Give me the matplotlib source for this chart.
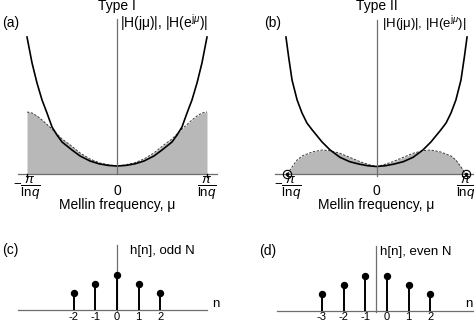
import matplotlib
matplotlib.use('Agg')
import matplotlib.pyplot as plt

plt.rcParams['font.family'] = 'Liberation Sans'
plt.rcParams['mathtext.fontset'] = 'custom'
plt.rcParams['mathtext.rm'] = 'Liberation Sans'
plt.rcParams['mathtext.it'] = 'Liberation Sans:italic'
plt.rcParams['mathtext.bf'] = 'Liberation Sans:bold'

W, H = 474, 323

# Type I: |H(j mu)| and |H(e^{j mu})|, read at |u| where u = mu * lnq / pi
u_a = [0, 0.1, 0.2, 0.3, 0.41, 0.5, 0.611, 0.667, 0.722, 0.778, 0.833, 0.889, 0.944, 1.0]
mag_a = [8, 8.6, 10.2, 13, 18, 24, 32, 39, 47, 61, 74, 91, 111, 137]
u_fill_a = [0, 0.08, 0.19, 0.3, 0.41, 0.52, 0.611, 0.667, 0.722, 0.778, 0.833, 0.889, 0.944, 1.0]
fill_a = [8, 9, 11, 15, 21, 29, 35, 40, 45, 49.5, 54, 58, 61, 62]

# Type II
u_b = [0, 0.1, 0.2, 0.3, 0.41, 0.52, 0.61, 0.72, 0.78, 0.835, 0.89, 0.947, 0.985, 1.015]
mag_b = [7.5, 8.3, 10, 12.3, 16.7, 24, 32, 44, 51, 61, 74, 94, 117, 137]
u_fill_b = [0, 0.07, 0.185, 0.3, 0.41, 0.52, 0.61, 0.72, 0.835, 0.89, 0.947, 1.0]
fill_b = [7.5, 9, 12.3, 16.7, 20.7, 23.3, 24, 22, 18, 14, 7, 0]

# impulse responses
n_odd = [-2, -1, 0, 1, 2]
h_odd = [17, 26, 35, 26, 17]
n_even = [-3, -2, -1, 0, 1, 2]
h_even = [17, 26, 35, 35, 26, 17]

AXIS_COLOR = '#6e6e6e'
FILL_COLOR = '#b8b8b8'


def mirror(xs, ys):
    # the read half-curves are symmetric about zero
    full_x = [-x for x in xs[::-1]] + list(xs[1:])
    full_y = list(ys[::-1]) + list(ys[1:])
    return full_x, full_y


def panel(fig, x0, y0, x1, y1, xlim, ylim):
    ax = fig.add_axes([x0 / W, 1 - y1 / H, (x1 - x0) / W, (y1 - y0) / H])
    ax.set_xlim(*xlim)
    ax.set_ylim(*ylim)
    ax.axis('off')
    return ax


def ftext(fig, x, y, s, **kw):
    kw.setdefault('fontsize', 10)
    kw.setdefault('va', 'baseline')
    fig.text(x / W, 1 - y / H, s, **kw)


def response(ax, u, mag, uf, fl, axis_ext, vert_ext):
    xs, ys = mirror(uf, fl)
    ax.fill_between(xs, 0, ys, color=FILL_COLOR, lw=0)
    ax.plot(xs, ys, color='#3a3a3a', lw=0.7, dashes=(2.5, 1.5))
    xm, ym = mirror(u, mag)
    ax.plot(xm, ym, color='black', lw=1.2)
    ax.plot(axis_ext, [0, 0], color=AXIS_COLOR, lw=0.9)
    ax.plot([0, 0], vert_ext, color=AXIS_COLOR, lw=0.9)
    ax.text(0, -21, '0', ha='center', va='baseline', fontsize=10)
    ax.text(-1, -14, r'$-\dfrac{\pi}{\mathrm{ln}q}$', ha='center', va='center', fontsize=9.5)
    ax.text(1, -14, r'$\dfrac{\pi}{\mathrm{ln}q}$', ha='center', va='center', fontsize=9.5)
    ax.text(0, -35, 'Mellin frequency, μ', ha='center', va='baseline', fontsize=10)


def impulses(ax, n, h, axis_ext, vpos, labels, label_y):
    ax.plot(axis_ext, [0, 0], color=AXIS_COLOR, lw=0.9)
    ax.plot([vpos, vpos], [-1, 65], color=AXIS_COLOR, lw=0.9)
    ax.vlines(n, 0, h, color='black', lw=1.4)
    ax.plot(n, h, 'o', color='black', ms=4.3)
    for k in n:
        ax.text(k, label_y, labels[k], ha='center', va='bottom', fontsize=8)


fig = plt.figure(figsize=(W / 100, H / 100), dpi=100)

# (a) Type I
ax_a = panel(fig, 0, 0, 237, 220, ((0 - 117) / 90, (237 - 117) / 90), (-46, 174))
response(ax_a, u_a, mag_a, u_fill_a, fill_a, [-1.1, 1.11], [0, 155])
ax_a.plot([-1, -1], [0, -2.5], color='black', lw=1)
ax_a.plot([1, 1], [0, -2.5], color='black', lw=1)

# (b) Type II
ax_b = panel(fig, 237, 0, 474, 220, ((237 - 376.5) / 89.2, (474 - 376.5) / 89.2), (-46, 174))
response(ax_b, u_b, mag_b, u_fill_b, fill_b, [-1.14, 1.1], [-2, 154])
ax_b.plot([-1, 1], [0, 0], 'o', mfc='none', mec='black', mew=0.8, ms=6)
ax_b.plot([-1, 1], [0, 0], 'o', color='black', ms=1.5)

# (c) odd N
ax_c = panel(fig, 0, 220, 237, 323, ((0 - 117) / 21.7, (237 - 117) / 21.7), (-13, 90))
impulses(ax_c, n_odd, h_odd, [-4.56, 4.15], 0, {k: str(k) for k in n_odd}, -12)

# (d) even N
ax_d = panel(fig, 237, 220, 474, 323, ((237 - 387) / 21.7, (474 - 387) / 21.7), (-12, 91))
impulses(ax_d, n_even, h_even, [-5.07, 4.01], -0.5, {k: str(k) for k in n_even}, -11)

ftext(fig, 117, 10, 'Type I', ha='center')
ftext(fig, 377, 10, 'Type II', ha='center')
ftext(fig, 2, 27, '(a)')
ftext(fig, 264, 27, '(b)')
ftext(fig, 120, 28, r'|H(jμ)|, |H(e$^{\mathrm{j}\mu}$)|')
ftext(fig, 382, 28, r'|H(jμ)|, |H(e$^{\mathrm{j}\mu}$)|', fontsize=9.5)
ftext(fig, 2, 254, '(c)')
ftext(fig, 130, 254, 'h[n], odd N', fontsize=9.5)
ftext(fig, 259, 255, '(d)')
ftext(fig, 380, 255, 'h[n], even N', fontsize=9.5)
ftext(fig, 212, 307, 'n', fontsize=9.5)
ftext(fig, 465, 307, 'n', fontsize=9.5)

fig.savefig('out.png', dpi=100)
